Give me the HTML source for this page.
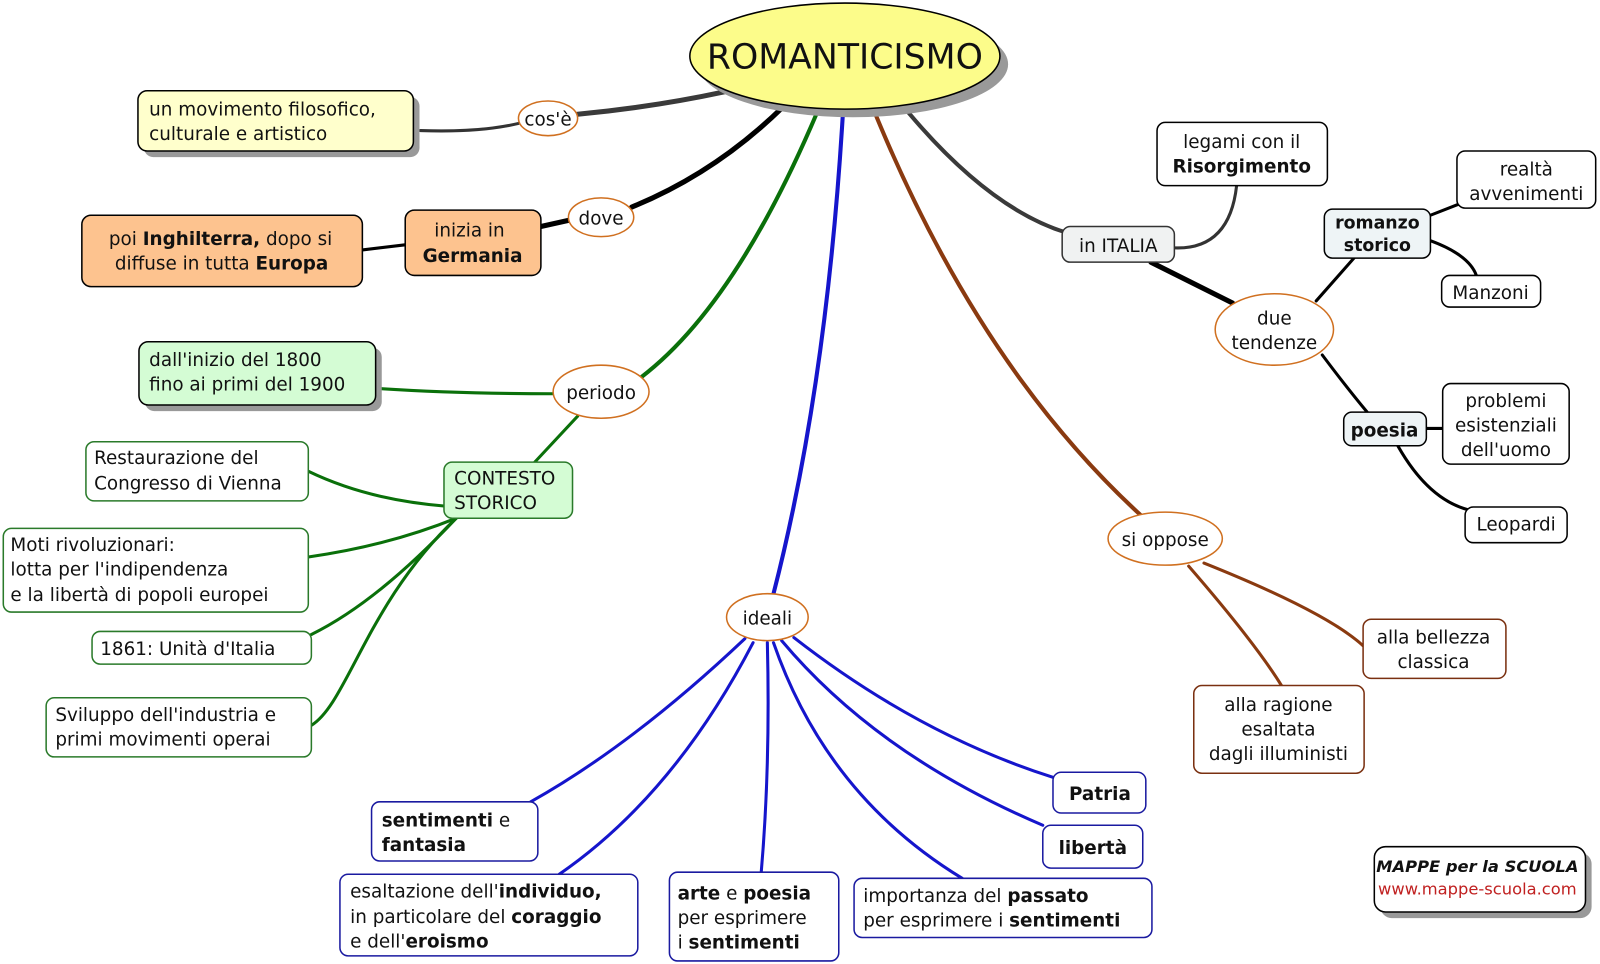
<!DOCTYPE html>
<html><head><meta charset="utf-8"><style>
html,body{margin:0;padding:0;background:#fff;}
svg{display:block;}
text{font-family:"DejaVu Sans","Liberation Sans",sans-serif;font-size:18px;fill:#111;}
.b{font-weight:bold;}
.c{text-anchor:middle;}
</style></head><body>
<svg width="1600" height="964" viewBox="0 0 1568 945" xmlns="http://www.w3.org/2000/svg">
<g fill="none" stroke-linecap="round">
<path d="M710,90 Q640,105 566,112" stroke="#3a3a3a" stroke-width="5"/>
<path d="M508,121 Q470,130 412,128" stroke="#333" stroke-width="3"/>
<path d="M765,107 Q700,170 619,203" stroke="#000" stroke-width="5"/>
<path d="M530,222 L557,216" stroke="#000" stroke-width="5"/>
<path d="M355,245 L397,240" stroke="#000" stroke-width="3"/>
<path d="M800,112 Q720,300 628,370" stroke="#0a700a" stroke-width="4"/>
<path d="M543,386 Q450,386 373,381" stroke="#0a700a" stroke-width="3"/>
<path d="M566,408 L524,453" stroke="#0a700a" stroke-width="3"/>
<path d="M435,496 Q360,490 302,462" stroke="#0a700a" stroke-width="3"/>
<path d="M447,508 Q380,535 302,546" stroke="#0a700a" stroke-width="3"/>
<path d="M447,508 Q370,590 305,622" stroke="#0a700a" stroke-width="3"/>
<path d="M447,508 C360,590 340,690 305,711" stroke="#0a700a" stroke-width="3"/>
<path d="M826,112 Q810,380 758,582" stroke="#1515cc" stroke-width="4"/>
<path d="M730,626 Q620,730 520,786" stroke="#1515cc" stroke-width="3"/>
<path d="M738,630 Q660,780 548,857" stroke="#1515cc" stroke-width="3"/>
<path d="M752,630 Q755,750 746,855" stroke="#1515cc" stroke-width="3"/>
<path d="M758,630 Q810,780 943,861" stroke="#1515cc" stroke-width="3"/>
<path d="M766,628 Q860,740 1022,809" stroke="#1515cc" stroke-width="3"/>
<path d="M778,625 Q900,720 1032,762" stroke="#1515cc" stroke-width="3"/>
<path d="M858,112 Q960,360 1118,505" stroke="#8a3a10" stroke-width="4"/>
<path d="M1180,552 Q1300,600 1336,633" stroke="#8a3a10" stroke-width="3"/>
<path d="M1165,555 Q1230,630 1256,672" stroke="#8a3a10" stroke-width="3"/>
<path d="M890,110 Q970,205 1045,228" stroke="#3a3a3a" stroke-width="4"/>
<path d="M1151,243 Q1205,245 1212,182" stroke="#333" stroke-width="3"/>
<path d="M1128,257 L1208,297" stroke="#000" stroke-width="5"/>
<path d="M1290,295 L1327,253" stroke="#000" stroke-width="3"/>
<path d="M1402,211 L1430,200" stroke="#000" stroke-width="3"/>
<path d="M1402,236 Q1440,250 1447,270" stroke="#000" stroke-width="3"/>
<path d="M1296,348 Q1320,380 1340,404" stroke="#000" stroke-width="3"/>
<path d="M1398,420 L1414,420" stroke="#000" stroke-width="3"/>
<path d="M1370,437 Q1400,490 1440,500" stroke="#000" stroke-width="3"/>
</g>

<ellipse cx="836" cy="63" rx="152" ry="52" fill="#999"/>
<rect x="141" y="95" width="270" height="59" rx="9" fill="#999"/>
<rect x="142" y="341" width="232" height="62" rx="9" fill="#999"/>
<rect x="1353" y="836" width="207" height="64" rx="11" fill="#999"/>

<ellipse cx="828" cy="55" rx="152" ry="52" fill="#fcfc8a" stroke="#000" stroke-width="1.5"/>
<text x="828" y="67" class="c" style="font-size:34px">ROMANTICISMO</text>

<g stroke-width="1.5">
<rect x="135" y="89" width="270" height="59" rx="9" fill="#ffffcc" stroke="#000"/>
<rect x="397" y="206" width="133" height="64" rx="9" fill="#fdc38f" stroke="#000"/>
<rect x="80" y="211" width="275" height="70" rx="9" fill="#fdc38f" stroke="#000"/>
<rect x="136" y="335" width="232" height="62" rx="9" fill="#d4fcd4" stroke="#000"/>
<rect x="435" y="453" width="126" height="55" rx="8" fill="#d4fcd4" stroke="#2a7a2a"/>
<rect x="84" y="433" width="218" height="58" rx="8" fill="#fff" stroke="#2a7a2a"/>
<rect x="3" y="518" width="299" height="82" rx="8" fill="#fff" stroke="#2a7a2a"/>
<rect x="90" y="619" width="215" height="32" rx="8" fill="#fff" stroke="#2a7a2a"/>
<rect x="45" y="684" width="260" height="58" rx="8" fill="#fff" stroke="#2a7a2a"/>
<rect x="364" y="786" width="163" height="58" rx="8" fill="#fff" stroke="#1a1aa0"/>
<rect x="333" y="857" width="292" height="80" rx="8" fill="#fff" stroke="#1a1aa0"/>
<rect x="656" y="855" width="166" height="87" rx="8" fill="#fff" stroke="#1a1aa0"/>
<rect x="837" y="861" width="292" height="58" rx="8" fill="#fff" stroke="#1a1aa0"/>
<rect x="1022" y="809" width="98" height="42" rx="8" fill="#fff" stroke="#1a1aa0"/>
<rect x="1032" y="757" width="91" height="40" rx="8" fill="#fff" stroke="#1a1aa0"/>
<rect x="1336" y="607" width="140" height="58" rx="8" fill="#fff" stroke="#7a3010"/>
<rect x="1170" y="672" width="167" height="86" rx="8" fill="#fff" stroke="#7a3010"/>
<rect x="1041" y="222" width="110" height="35" rx="8" fill="#f0f2f2" stroke="#333"/>
<rect x="1134" y="120" width="167" height="62" rx="8" fill="#fff" stroke="#000"/>
<rect x="1298" y="205" width="104" height="48" rx="8" fill="#eef4f6" stroke="#000"/>
<rect x="1428" y="148" width="136" height="56" rx="8" fill="#fff" stroke="#000"/>
<rect x="1413" y="270" width="97" height="31" rx="8" fill="#fff" stroke="#000"/>
<rect x="1317" y="404" width="81" height="33" rx="8" fill="#eef4f6" stroke="#000"/>
<rect x="1414" y="376" width="124" height="79" rx="8" fill="#fff" stroke="#000"/>
<rect x="1436" y="497" width="100" height="35" rx="8" fill="#fff" stroke="#000"/>
<rect x="1347" y="830" width="207" height="64" rx="11" fill="#fff" stroke="#000"/>
<ellipse cx="537" cy="116" rx="29" ry="17" fill="#fff" stroke="#d07020"/>
<ellipse cx="589" cy="213" rx="32" ry="19" fill="#fff" stroke="#d07020"/>
<ellipse cx="589" cy="384" rx="47" ry="26" fill="#fff" stroke="#d07020"/>
<ellipse cx="752" cy="605" rx="40" ry="23" fill="#fff" stroke="#d07020"/>
<ellipse cx="1142" cy="528" rx="56" ry="26" fill="#fff" stroke="#d07020"/>
<ellipse cx="1249" cy="323" rx="58" ry="35" fill="#fff" stroke="#d07020"/>
</g>

<text x="146" y="113">un movimento filosofico,</text>
<text x="146" y="137">culturale e artistico</text>
<text x="537" y="123" class="c">cos'è</text>
<text x="589" y="220" class="c">dove</text>
<text x="460" y="232" class="c">inizia in</text>
<text x="463" y="257" class="c b">Germania</text>
<text x="216" y="240" class="c">poi <tspan class="b">Inghilterra,</tspan> dopo si</text>
<text x="217" y="264" class="c">diffuse in tutta <tspan class="b">Europa</tspan></text>
<text x="146" y="359">dall'inizio del 1800</text>
<text x="146" y="383">fino ai primi del 1900</text>
<text x="589" y="391" class="c">periodo</text>
<text x="445" y="475">CONTESTO</text>
<text x="445" y="499">STORICO</text>
<text x="92" y="455">Restaurazione del</text>
<text x="92" y="480">Congresso di Vienna</text>
<text x="10" y="540">Moti rivoluzionari:</text>
<text x="10" y="564">lotta per l'indipendenza</text>
<text x="10" y="589">e la libertà di popoli europei</text>
<text x="98" y="642">1861: Unità d'Italia</text>
<text x="54" y="707">Sviluppo dell'industria e</text>
<text x="54" y="731">primi movimenti operai</text>
<text x="752" y="612" class="c">ideali</text>
<text x="374" y="810"><tspan class="b">sentimenti</tspan> e</text>
<text x="374" y="834" class="b">fantasia</text>
<text x="343" y="880">esaltazione dell'<tspan class="b">individuo,</tspan></text>
<text x="343" y="905">in particolare del <tspan class="b">coraggio</tspan></text>
<text x="343" y="929"> e dell'<tspan class="b">eroismo</tspan></text>
<text x="664" y="882"><tspan class="b">arte</tspan> e <tspan class="b">poesia</tspan></text>
<text x="664" y="906">per esprimere</text>
<text x="664" y="930">i <tspan class="b">sentimenti</tspan></text>
<text x="846" y="884">importanza del <tspan class="b">passato</tspan></text>
<text x="846" y="908">per esprimere i <tspan class="b">sentimenti</tspan></text>
<text x="1071" y="837" class="c b">libertà</text>
<text x="1078" y="784" class="c b">Patria</text>
<text x="1142" y="535" class="c">si oppose</text>
<text x="1405" y="631" class="c">alla bellezza</text>
<text x="1405" y="655" class="c">classica</text>
<text x="1253" y="697" class="c">alla ragione</text>
<text x="1253" y="721" class="c">esaltata</text>
<text x="1253" y="745" class="c">dagli illuministi</text>
<text x="1096" y="247" class="c">in ITALIA</text>
<text x="1217" y="145" class="c">legami con il</text>
<text x="1217" y="169" class="c b">Risorgimento</text>
<text x="1249" y="318" class="c">due</text>
<text x="1249" y="342" class="c">tendenze</text>
<text x="1350" y="224" class="c b" style="font-size:17px">romanzo</text>
<text x="1350" y="246" class="c b" style="font-size:17px">storico</text>
<text x="1496" y="172" class="c">realtà</text>
<text x="1496" y="196" class="c">avvenimenti</text>
<text x="1461" y="293" class="c">Manzoni</text>
<text x="1357" y="428" class="c b">poesia</text>
<text x="1476" y="399" class="c">problemi</text>
<text x="1476" y="423" class="c">esistenziali</text>
<text x="1476" y="447" class="c">dell'uomo</text>
<text x="1486" y="520" class="c">Leopardi</text>
<text x="1448" y="855" class="c b" style="font-size:16px;font-style:italic">MAPPE per la SCUOLA</text>
<text x="1448" y="877" class="c" style="font-size:16px;fill:#c02020">www.mappe-scuola.com</text>
</svg>
</body></html>
